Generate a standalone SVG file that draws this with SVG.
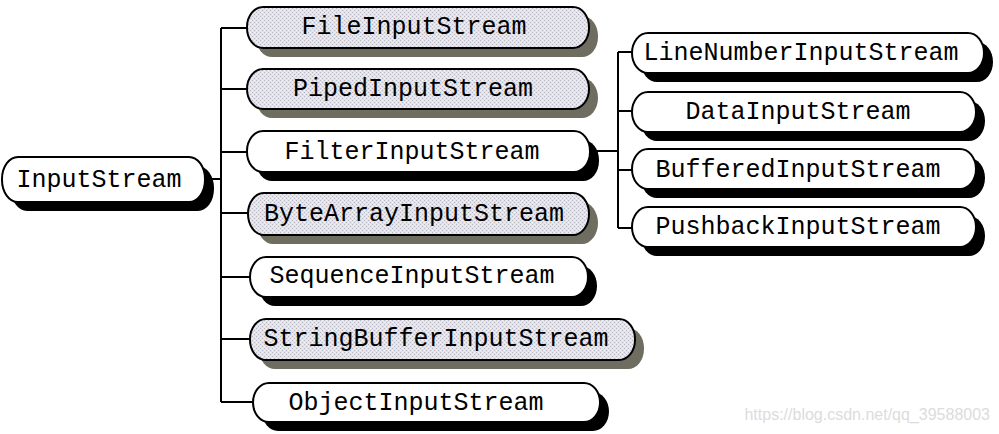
<svg xmlns="http://www.w3.org/2000/svg" width="999" height="434" viewBox="0 0 999 434">
<style>
  .box { stroke: #000; stroke-width: 2; }
  .white { fill: #fff; }
  .gray { fill: url(#dither); }
  .sh-black { fill: #000; }
  .sh-gray { fill: #6f6d60; }
  .lbl { font-family: "Liberation Mono", "DejaVu Sans Mono", monospace; font-size: 25px; fill: #000; text-anchor: middle; }
  .conn { stroke: #000; stroke-width: 2; fill: none; }
  .wm { font-family: "Liberation Sans", Arial, sans-serif; font-size: 16px; fill: #dcdcdc; text-anchor: end; }
</style>
<defs>
  <pattern id="dither" width="4" height="4" patternUnits="userSpaceOnUse">
    <rect width="4" height="4" fill="#e2e2ea"/>
    <rect x="0" y="0" width="1" height="1" fill="#b8b8c4"/>
    <rect x="2" y="2" width="1" height="1" fill="#b8b8c4"/>
    <rect x="2" y="0" width="1" height="1" fill="#f4f4f8"/>
    <rect x="0" y="2" width="1" height="1" fill="#f4f4f8"/>
  </pattern>
</defs>
<rect width="999" height="434" fill="#fff"/>

<g id="connectors">
  <path class="conn" d="M205 179 H221"/>
  <path class="conn" d="M221 28 V402"/>
  <path class="conn" d="M221 28 H248"/>
  <path class="conn" d="M221 89 H248"/>
  <path class="conn" d="M221 152 H248"/>
  <path class="conn" d="M221 213 H248"/>
  <path class="conn" d="M221 277 H251"/>
  <path class="conn" d="M221 339 H251"/>
  <path class="conn" d="M221 402 H254"/>
  <path class="conn" d="M590 151 H618"/>
  <path class="conn" d="M618 52 V228"/>
  <path class="conn" d="M618 52 H633"/>
  <path class="conn" d="M618 111 H633"/>
  <path class="conn" d="M618 170 H633"/>
  <path class="conn" d="M618 228 H633"/>
</g>

<g id="InputStream">
  <rect class="sh-black" x="11" y="166" width="203" height="45" rx="16" ry="22"/>
  <rect class="box white" x="2" y="157" width="203" height="45" rx="16" ry="22"/>
  <text class="lbl" x="99" y="187">InputStream</text>
</g>

<g id="FileInputStream">
  <rect class="sh-gray" x="256" y="16" width="342" height="41" rx="16" ry="20"/>
  <rect class="box gray" x="247" y="7" width="342" height="41" rx="16" ry="20"/>
  <text class="lbl" x="414" y="34">FileInputStream</text>
</g>

<g id="PipedInputStream">
  <rect class="sh-gray" x="256" y="78" width="342" height="40" rx="16" ry="20"/>
  <rect class="box gray" x="247" y="69" width="342" height="40" rx="16" ry="20"/>
  <text class="lbl" x="413" y="96">PipedInputStream</text>
</g>

<g id="FilterInputStream">
  <rect class="sh-black" x="256" y="140" width="343" height="41" rx="16" ry="20"/>
  <rect class="box white" x="247" y="131" width="343" height="41" rx="16" ry="20"/>
  <text class="lbl" x="412" y="159">FilterInputStream</text>
</g>

<g id="ByteArrayInputStream">
  <rect class="sh-gray" x="257" y="202" width="341" height="42" rx="16" ry="21"/>
  <rect class="box gray" x="248" y="193" width="341" height="42" rx="16" ry="21"/>
  <text class="lbl" x="414" y="221">ByteArrayInputStream</text>
</g>

<g id="SequenceInputStream">
  <rect class="sh-black" x="259" y="266" width="338" height="40" rx="16" ry="20"/>
  <rect class="box white" x="250" y="257" width="338" height="40" rx="16" ry="20"/>
  <text class="lbl" x="412" y="283">SequenceInputStream</text>
</g>

<g id="StringBufferInputStream">
  <rect class="sh-gray" x="259" y="328" width="385" height="41" rx="16" ry="20"/>
  <rect class="box gray" x="250" y="319" width="385" height="41" rx="16" ry="20"/>
  <text class="lbl" x="436" y="346">StringBufferInputStream</text>
</g>

<g id="ObjectInputStream">
  <rect class="sh-black" x="262" y="392" width="347" height="39" rx="16" ry="20"/>
  <rect class="box white" x="253" y="383" width="347" height="39" rx="16" ry="20"/>
  <text class="lbl" x="416" y="410">ObjectInputStream</text>
</g>

<g id="LineNumberInputStream">
  <rect class="sh-black" x="641" y="42" width="352" height="40" rx="16" ry="20"/>
  <rect class="box white" x="632" y="33" width="352" height="40" rx="16" ry="20"/>
  <text class="lbl" x="801" y="60">LineNumberInputStream</text>
</g>

<g id="DataInputStream">
  <rect class="sh-black" x="641" y="101" width="344" height="40" rx="16" ry="20"/>
  <rect class="box white" x="632" y="92" width="344" height="40" rx="16" ry="20"/>
  <text class="lbl" x="798" y="119">DataInputStream</text>
</g>

<g id="BufferedInputStream">
  <rect class="sh-black" x="641" y="158" width="344" height="40" rx="16" ry="20"/>
  <rect class="box white" x="632" y="149" width="344" height="40" rx="16" ry="20"/>
  <text class="lbl" x="798" y="177">BufferedInputStream</text>
</g>

<g id="PushbackInputStream">
  <rect class="sh-black" x="641" y="216" width="344" height="40" rx="16" ry="20"/>
  <rect class="box white" x="632" y="207" width="344" height="40" rx="16" ry="20"/>
  <text class="lbl" x="798" y="234">PushbackInputStream</text>
</g>

<text class="wm" x="990" y="420">https://blog.csdn.net/qq_39588003</text>
</svg>
